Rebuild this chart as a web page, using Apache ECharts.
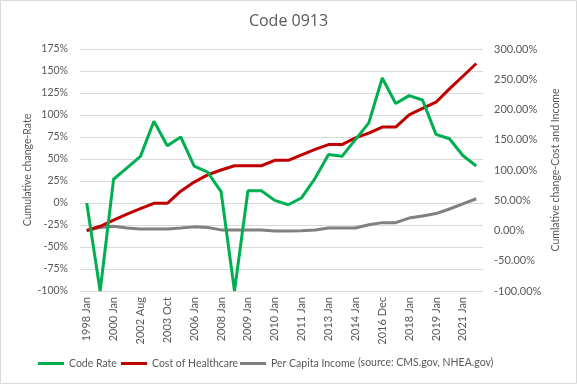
<!DOCTYPE html>
<html><head><meta charset="utf-8">
<script src="https://cdn.jsdelivr.net/npm/echarts@6/dist/echarts.min.js"></script>
<style>html,body{margin:0;padding:0;background:#fff}#c{width:577px;height:384px}</style>
</head><body><div id="c"></div>
<script>
const categories = ["1998 Jan","1999 Jan","2000 Jan","2001 Jan","2002 Aug","2003 Jan","2003 Oct","2004 Jan","2006 Jan","2007 Jan","2008 Jan","2008 Jul","2009 Jan","2009 Jul","2010 Jan","2010 Jul","2011 Jan","2012 Jan","2013 Jan","2013 Jul","2014 Jan","2015 Jan","2016 Dec","2017 Jan","2018 Jan","2018 Jul","2019 Jan","2020 Jan","2021 Jan","2022 Jan"];
const codeRate = [0,-100,27,40,53,93,65,75,42,35,13,-100,14,14,3,-2,6,28,55,53,72,91,142,113,122,117,78,73,54,42];
const costHealthcare = [0,7,17,27,36,45,45,65,80,92,100,107,107,107,116,116,125,134,142,142,153,161,171,171,191,202,212,234,255,276];
const perCapitaIncome = [0,5,7,4,2.5,2.5,2.5,4,6,5,1,1,1,1,-1,-1,-0.5,1,4,4,4,9.5,13,13,20.5,24,28,35.5,44,52.5];
const leftTicks = {min:-100,max:175,interval:25};
const rightTicks = {min:-100,max:300,interval:50};
const seriesNames = ['Code Rate','Cost of Healthcare','Per Capita Income'];
const sourceNote = "(source: CMS.gov, NHEA.gov)";

const font = "Lato, sans-serif";
const txt = '#595959';
const legendLefts = [38,121,240];
const chart = echarts.init(document.getElementById('c'));
chart.setOption({
  animation:false,
  textStyle:{fontFamily:font},
  title:{text:'Code 0913',left:'center',top:8,textStyle:{fontFamily:"'Open Sans', sans-serif",fontSize:16,fontWeight:'normal',color:txt}},
  grid:{left:80,right:94,top:49,bottom:93,containLabel:false},
  legend:seriesNames.map((n,i)=>({left:legendLefts[i],top:358,padding:0,itemWidth:26,itemHeight:3,icon:'rect',
    textStyle:{fontFamily:font,fontSize:10.5,color:txt},data:[n]})),
  graphic:[
    {type:'text',left:358,top:357,style:{text:sourceNote,font:"10.5px Lato, sans-serif",fill:txt}},
    {type:'rect',shape:{x:0.5,y:0.5,width:576,height:383},style:{fill:'none',stroke:'#d9d9d9',lineWidth:1},silent:true}
  ],
  xAxis:{type:'category',data:categories,boundaryGap:true,
    axisLine:{lineStyle:{color:'#d9d9d9'}},axisTick:{show:false},
    axisLabel:{interval:1,rotate:90,fontSize:11,color:txt,margin:6,fontFamily:font}},
  yAxis:[
    {type:'value',min:leftTicks.min,max:leftTicks.max,interval:leftTicks.interval,
     name:'Cumulative change-Rate',nameLocation:'middle',nameGap:47,nameRotate:90,nameMoveOverlap:false,
     nameTextStyle:{fontSize:10.5,color:txt,fontFamily:font},
     axisLabel:{formatter:v=>v+'%',fontSize:10.5,color:txt,margin:12,fontFamily:font},
     axisLine:{show:false},axisTick:{show:false},
     splitLine:{lineStyle:{color:'#d9d9d9'}}},
    {type:'value',min:rightTicks.min,max:rightTicks.max,interval:rightTicks.interval,position:'right',
     name:'Cumlative change-Cost and Income',nameLocation:'middle',nameGap:67,nameRotate:90,nameMoveOverlap:false,
     nameTextStyle:{fontSize:10.5,color:txt,fontFamily:font},
     axisLabel:{formatter:v=>v.toFixed(2)+'%',fontSize:11,color:txt,margin:11,fontFamily:font},
     axisLine:{show:false},axisTick:{show:false},splitLine:{show:false}}
  ],
  series:[
    {name:seriesNames[0],type:'line',yAxisIndex:0,data:codeRate,symbol:'none',lineStyle:{width:3,color:'#00B050'},itemStyle:{color:'#00B050'},z:3},
    {name:seriesNames[1],type:'line',yAxisIndex:1,data:costHealthcare,symbol:'none',lineStyle:{width:3,color:'#C00000'},itemStyle:{color:'#C00000'},z:2},
    {name:seriesNames[2],type:'line',yAxisIndex:1,data:perCapitaIncome,symbol:'none',lineStyle:{width:3,color:'#808080'},itemStyle:{color:'#808080'},z:1}
  ]
});
</script></body></html>
